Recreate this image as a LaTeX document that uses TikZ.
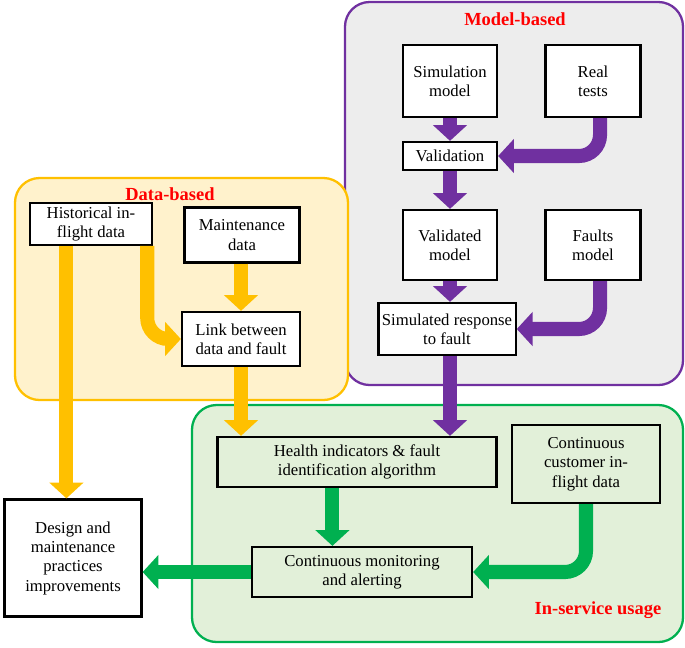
\documentclass[tikz,border=0pt]{standalone}
\usepackage{fontspec}
\setmainfont{Liberation Serif}
\usetikzlibrary{arrows.meta}
\definecolor{pfill}{HTML}{7030A0}
\definecolor{ofill}{HTML}{FFC000}
\definecolor{gfill}{HTML}{00B050}
\definecolor{pback}{HTML}{EDEDED}
\definecolor{oback}{HTML}{FFF2CC}
\definecolor{gback}{HTML}{E2F0D9}
\definecolor{ttl}{HTML}{FF0000}
\begin{document}
\begin{tikzpicture}[x=0.02cm,y=-0.02cm,
  box/.style={draw=black,line width=1.3pt,fill=white,align=center,font=\fontsize{9.5}{11}\selectfont,inner sep=2pt},
  gbox/.style={box,fill=gback},
  region/.style={rounded corners=14pt,line width=1.3pt},
  ttlst/.style={text=ttl,font=\fontsize{10.5}{12}\selectfont\bfseries},
  big/.style={line width=8pt,rounded corners=12pt,-{Triangle[length=9pt,width=19pt]}},
  parr/.style={big,draw=pfill},
  oarr/.style={big,draw=ofill},
  garr/.style={big,draw=gfill}]
\useasboundingbox (0,0) rectangle (685,647);
\draw[region,draw=pfill,fill=pback] (345,2) rectangle (683,385);
\draw[region,draw=ofill,fill=oback] (15,178) rectangle (348,400);
\draw[region,draw=gfill,fill=gback] (192,405) rectangle (683,642);
\node[ttlst] (tm) at (515,19) {Model-based};
\node[ttlst] (td) at (170,194) {Data-based};
\node[ttlst] (ti) at (598,610) {In-service usage};

\node[box,minimum width=94*0.02cm,minimum height=72*0.02cm] (sim) at (450,81) {Simulation\\model};
\node[box,minimum width=95*0.02cm,minimum height=72*0.02cm] (rt) at (593,81) {Real\\tests};
\node[box,minimum width=94*0.02cm,minimum height=28*0.02cm] (val) at (450,156) {Validation};
\node[box,minimum width=94*0.02cm,minimum height=70*0.02cm] (vm) at (450,245) {Validated\\model};
\node[box,minimum width=95*0.02cm,minimum height=70*0.02cm] (fm) at (593,245) {Faults\\model};
\node[box,minimum width=135*0.02cm,minimum height=52*0.02cm] (sr) at (447,329) {Simulated response\\to fault};
\node[box,minimum width=122*0.02cm,minimum height=32*0.02cm] (hist) at (91,224) {Historical in-\\flight data};
\node[box,minimum width=115*0.02cm,minimum height=55*0.02cm] (md) at (242,235) {Maintenance\\data};
\node[box,minimum width=118*0.02cm,minimum height=54*0.02cm] (link) at (241,339) {Link between\\data and fault};
\node[gbox,minimum width=279*0.02cm,minimum height=50*0.02cm] (hi) at (357,462) {Health indicators \& fault\\identification algorithm};
\node[gbox,minimum width=148*0.02cm,minimum height=78*0.02cm] (cc) at (586,464) {Continuous\\customer in-\\flight data};
\node[box,minimum width=137*0.02cm,minimum height=117*0.02cm] (des) at (73,558) {Design and\\maintenance\\practices\\improvements};
\node[gbox,minimum width=220*0.02cm,minimum height=50*0.02cm] (cm) at (362,572) {Continuous monitoring\\and alerting};

\draw[parr] (sim.south) -- (val.north);
\draw[parr] ([xshift=4pt]rt.south) |- (val.east);
\draw[parr] (val.south) -- (vm.north);
\draw[parr] (vm.south) -- (vm.south|-sr.north);
\draw[parr] ([xshift=4pt]fm.south) |- (sr.east);
\draw[parr] (vm.south|-sr.south) -- (vm.south|-hi.north);
\draw[oarr] ([xshift=32pt]hist.south) |- (link.west);
\draw[oarr] ([xshift=-14pt]hist.south) -- ([xshift=-14pt]hist.south|-des.north);
\draw[oarr] (link.north|-md.south) -- (link.north);
\draw[oarr] (link.south) -- (link.south|-hi.north);
\draw[garr] ([xshift=-14pt]hi.south) -- ([xshift=-14pt]hi.south|-cm.north);
\draw[garr] (cc.south) |- (cm.east);
\draw[garr] (cm.west) -- (des.east|-cm.west);
\end{tikzpicture}
\end{document}
